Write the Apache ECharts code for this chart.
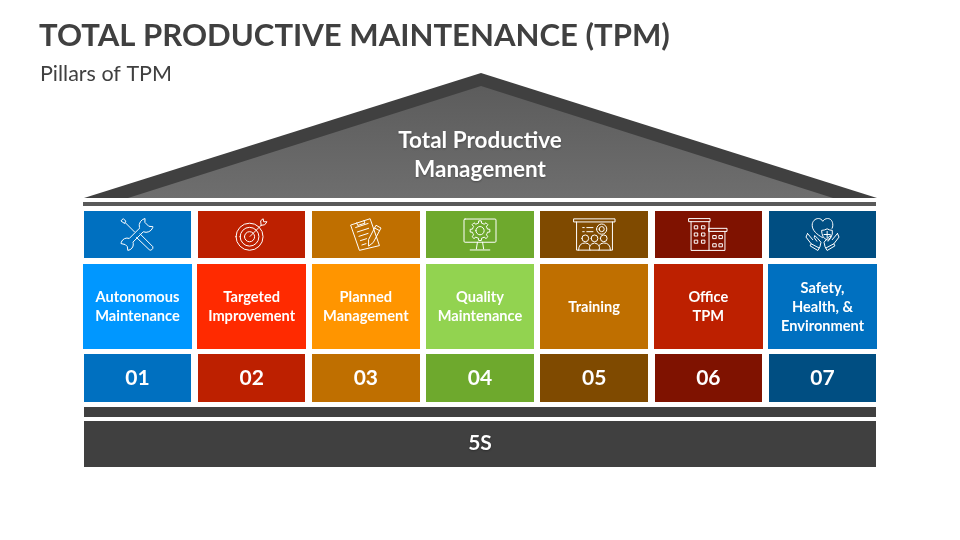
<!DOCTYPE html>
<html><head><meta charset="utf-8">
<style>html,body{margin:0;padding:0;background:#fff}#c{width:960px;height:540px}</style>
<script src="https://cdn.jsdelivr.net/npm/echarts@6/dist/echarts.min.js"></script>
</head><body><div id="c"></div>
<script>
// ---- content ----
const pageTitle = 'TOTAL PRODUCTIVE MAINTENANCE (TPM)';
const pageSubtitle = 'Pillars of TPM';
const roofLabel = 'Total Productive\nManagement';
const baseLabel = '5S';
const pillarIds = ['p1','p2','p3','p4','p5','p6','p7'];
const pillarNames = ['Autonomous\nMaintenance','Targeted\nImprovement','Planned\nManagement','Quality\nMaintenance','Training','Office\nTPM','Safety,\nHealth, &\nEnvironment'];
const pillarNumbers = ['01','02','03','04','05','06','07'];
const iconKeys = ['tools','target','clipboard','monitor','board','building','care'];

// ---- styling ----
const accentColors = ['#0070C0','#BD2000','#BF6F00','#6EA92D','#7F4A00','#7F1200','#004E82'];
const panelColors  = ['#0097FF','#FF2A00','#FF9500','#92D350','#BF6F00','#BD2000','#0070C0'];
const ink = '#404040';
const FONT = 'Lato, "Open Sans", sans-serif';
const rows = {icon:{y0:211,y1:258,w:107.5}, name:{y0:264,y1:349,w:108.4}, num:{y0:354,y1:402,w:107.5}};

function ring(cx,cy,r){return `M${cx-r} ${cy}a${r} ${r} 0 1 0 ${2*r} 0a${r} ${r} 0 1 0 ${-2*r} 0Z`;}
function box(x,y,w,h){return `M${x} ${y}h${w}v${h}h${-w}Z`;}
function gear(cx,cy,ro,ri,n){let d='';for(let i=0;i<n;i++){const s=2*Math.PI/n,a=i*s;
  const pts=[[ri,a-s*.5],[ri,a-s*.27],[ro,a-s*.17],[ro,a+s*.17],[ri,a+s*.27]];
  pts.forEach((p,j)=>{d+=((i===0&&j===0)?'M':'L')+(cx+p[0]*Math.cos(p[1])).toFixed(2)+' '+(cy+p[0]*Math.sin(p[1])).toFixed(2);});}
  return d+'Z';}
// icon outlines, each drawn in its own box (w,h) and centred on dx from the pillar centre
const icons = {
 tools:{dx:-0.5,w:32,h:32,d:
  'M23.5 .5A7 7 0 0 0 18.6 9.8L8.4 20A6 6 0 0 0 .3 25L4.5 26L6.5 28L7 31.7A6 6 0 0 0 12 23.6L22.2 13.4A7 7 0 0 0 31.7 8.5L27.5 8L24 4.5Z'+
  'M.5 2.5L2.5 .5L5 3L4 5Z M4.5 4.5L13.5 13.5 M19 15.5L31.5 28Q32 30 30.5 31Q29 32 28 31L15.5 19'},
 target:{dx:0,w:31,h:32,d:
  ring(13.5,18.3,13.4)+ring(13.5,18.3,9.3)+ring(13.5,18.3,5)+
  'M14 18L25 7 M25 7L24.5 2.5L27 .5L27.5 3.5L30.8 3.5L28.5 6.5L25 7'},
 clipboard:{dx:0,w:30,h:32,d:
  'M.5 7L19 1L28 27L9 31.5Z M6 5L7 7.5L14 5.3L13 2.8'+
  'M5 9.5L17 5.6M6.6 13.8L17.5 10.3M8.2 18L17 15.2M9.6 22.2L15.5 20.3M11 26.4L15 25.1'+
  'M25 7.5L29.5 10L22 24L17.5 27.5L17.5 21.5Z M23.5 10L28 12.5'},
 monitor:{dx:0,w:32,h:32,d:
  'M1.5 .5H30.5Q31.5 .5 31.5 1.5V22Q31.5 23 30.5 23H1.5Q.5 23 .5 22V1.5Q.5 .5 1.5 .5Z'+
  gear(16,11.8,9.6,7.4,8)+ring(16,11.8,4)+
  'M13.5 23L12.5 29.5M18.5 23L19.5 29.5M6.5 30.5H25.5'},
 board:{dx:0,w:41,h:32,d:
  box(.5,.5,40,3)+'M3 3.5V31H38V3.5'+
  'M9 9H10.5M13 9H19M9 13H10.5M13 13H19'+ring(27.5,10.5,5)+ring(27.5,10.5,2.5)+
  ring(11.5,19.5,3.3)+ring(20.5,19.5,3.3)+ring(29.5,19.5,3.3)+
  'M5 31Q5 24 11.5 24Q15 24 16 26.5M16 31Q14 25.5 20.5 24Q27 25.5 25 31M25 26.5Q26 24 29.5 24Q36 24 36 31'},
 building:{dx:0,w:38,h:32,d:
  box(.5,.5,20.5,3)+'M2.5 3.5V31.5H20V3.5'+
  box(6,7.5,3,3)+box(13,7.5,3,3)+box(6,14.5,3,3)+box(13,14.5,3,3)+box(6,21.5,3,3)+box(13,21.5,3,3)+
  box(20,10,17.5,3)+'M35.5 13V31.5H20'+
  box(24,17,3,3)+box(30,17,3,3)+box(24,25,3,3)+box(30,25,3,3)},
 care:{dx:0,w:33,h:32,d:
  'M16.5 19C11 16 6.5 12 6.5 7C6.5 3 9.5 .5 12.5 .5C14.5 .5 15.8 1.5 16.8 3.2C17.8 1.5 19.5 .5 21.5 .5C24.5 .5 26.5 3 26.5 7C26.5 8.2 26.2 9.2 25.8 10'+
  'M16 12Q18.5 12 21 10.5Q23.5 12 26 12V15.5Q26 19 21 21.5Q16 19 16 15.5Z M21 13V19M18 16H24'+
  'M2 15L.5 18.5L5.5 25L4.5 27L12 31.5L14 28L15 23.5L12 20L9 17L8.5 19L11 22.5M2 15L7 21M5.5 25L13 29'+
  'M31 15L32.5 18.5L27.5 25L28.5 27L21 31.5L19 28L18 23.5L21 20L24 17L24.5 19L22 22.5M31 15L26 21M27.5 25L20 29'}
};

// ---- page frame drawn in page units ----
const frameShapes = [
 {kind:'roofOuter', pts:[[84,198],[481,73],[877,198]]},
 {kind:'roofInner', pts:[[128,198],[481,86],[833,198]]},
 {kind:'beam', rect:[83,202,793,4]},
 {kind:'beam2', rect:[84,407,792,10]},
 {kind:'base', rect:[84,421,792,46]}
];

function rowRenderer(row, draw){
  return function(params, api){
    const i = api.value(0);
    const cx = api.coord([i, 0])[0];
    const x0 = Math.round(cx - row.w/2), x1 = Math.round(cx + row.w/2);
    const y0 = api.coord([i, row.y0])[1], y1 = api.coord([i, row.y1])[1];
    const children = [{type:'rect', shape:{x:x0,y:y0,width:x1-x0,height:y1-y0}, style:{fill:draw.fill[i]}}];
    return {type:'group', children: children.concat(draw.extra(i, cx, (y0+y1)/2))};
  };
}

const option = {
 animation:false,
 backgroundColor:'#fff',
 title:[
  {text:pageTitle,left:34,top:15,textStyle:{fontFamily:FONT,fontWeight:'bold',fontSize:31.1,color:ink}},
  {text:pageSubtitle,left:35,top:58,textStyle:{fontFamily:FONT,fontWeight:'normal',fontSize:21.5,color:ink}}
 ],
 grid:[
  {left:80.4,width:799.2,top:0,height:540,show:false},
  {left:0,width:960,top:0,height:540,show:false}
 ],
 xAxis:[
  {gridIndex:0,type:'category',data:pillarIds,show:false},
  {gridIndex:1,type:'value',min:0,max:960,show:false}
 ],
 yAxis:[
  {gridIndex:0,type:'value',min:0,max:540,inverse:true,show:false},
  {gridIndex:1,type:'value',min:0,max:540,inverse:true,show:false}
 ],
 series:[
  {type:'custom',coordinateSystem:'cartesian2d',xAxisIndex:1,yAxisIndex:1,silent:true,z:1,
   data:frameShapes.map((s,i)=>[i]),
   renderItem(params,api){
     const s = frameShapes[api.value(0)];
     if(s.pts){
       const fill = s.kind==='roofOuter' ? '#404040' :
         {type:'linear',x:0,y:0,x2:0,y2:1,colorStops:[{offset:0,color:'#5C5C5C'},{offset:1,color:'#6E6E6E'}]};
       return {type:'polygon',shape:{points:s.pts.map(p=>api.coord(p))},style:{fill}};
     }
     const a = api.coord([s.rect[0],s.rect[1]]), b = api.coord([s.rect[0]+s.rect[2],s.rect[1]+s.rect[3]]);
     const fill = s.kind==='beam' ? '#595959' : ink;
     return {type:'rect',shape:{x:a[0],y:a[1],width:b[0]-a[0],height:b[1]-a[1]},style:{fill}};
   }},
  {type:'custom',xAxisIndex:1,yAxisIndex:1,silent:true,z:5,data:[[480,155,roofLabel],[480,443.5,baseLabel]],
   renderItem(params,api){
     const p = api.coord([api.value(0),api.value(1)]);
     const big = params.dataIndex===0;
     return {type:'text',style:{x:p[0],y:p[1],text:big?roofLabel:baseLabel,fill:'#fff',align:'center',verticalAlign:'middle',
       lineHeight:29,font:`bold ${big?22.5:21}px ${FONT}`,textShadowColor:'rgba(0,0,0,.3)',textShadowBlur:2,textShadowOffsetY:1}};
   }},
  {type:'custom',xAxisIndex:0,yAxisIndex:0,silent:true,z:3,name:'icons',data:pillarIds.map((_,i)=>[i]),
   renderItem:rowRenderer(rows.icon,{fill:accentColors,extra(i,cx,cy){
     const ic = icons[iconKeys[i]];
     return [{type:'path',shape:{pathData:ic.d,x:Math.round(cx+ic.dx-ic.w/2),y:Math.round(cy-ic.h/2)-.5,width:ic.w,height:ic.h},
       style:{fill:'none',stroke:'#fff',lineWidth:1,lineJoin:'round',lineCap:'round'}}];
   }})},
  {type:'custom',xAxisIndex:0,yAxisIndex:0,silent:true,z:3,name:'names',data:pillarIds.map((_,i)=>[i]),
   renderItem:rowRenderer(rows.name,{fill:panelColors,extra(i,cx,cy){
     return [{type:'text',style:{x:cx,y:cy+.5,text:pillarNames[i],fill:'#fff',align:'center',verticalAlign:'middle',
       lineHeight:19,font:`bold 14.6px ${FONT}`}}];
   }})},
  {type:'custom',xAxisIndex:0,yAxisIndex:0,silent:true,z:3,name:'numbers',data:pillarIds.map((_,i)=>[i]),
   renderItem:rowRenderer(rows.num,{fill:accentColors,extra(i,cx,cy){
     return [{type:'text',style:{x:cx,y:cy,text:pillarNumbers[i],fill:'#fff',align:'center',verticalAlign:'middle',
       font:`bold 21px ${FONT}`}}];
   }})}
 ]
};
const chart = echarts.init(document.getElementById('c'),null,{width:960,height:540,renderer:'canvas'});
chart.setOption(option);
</script></body></html>
